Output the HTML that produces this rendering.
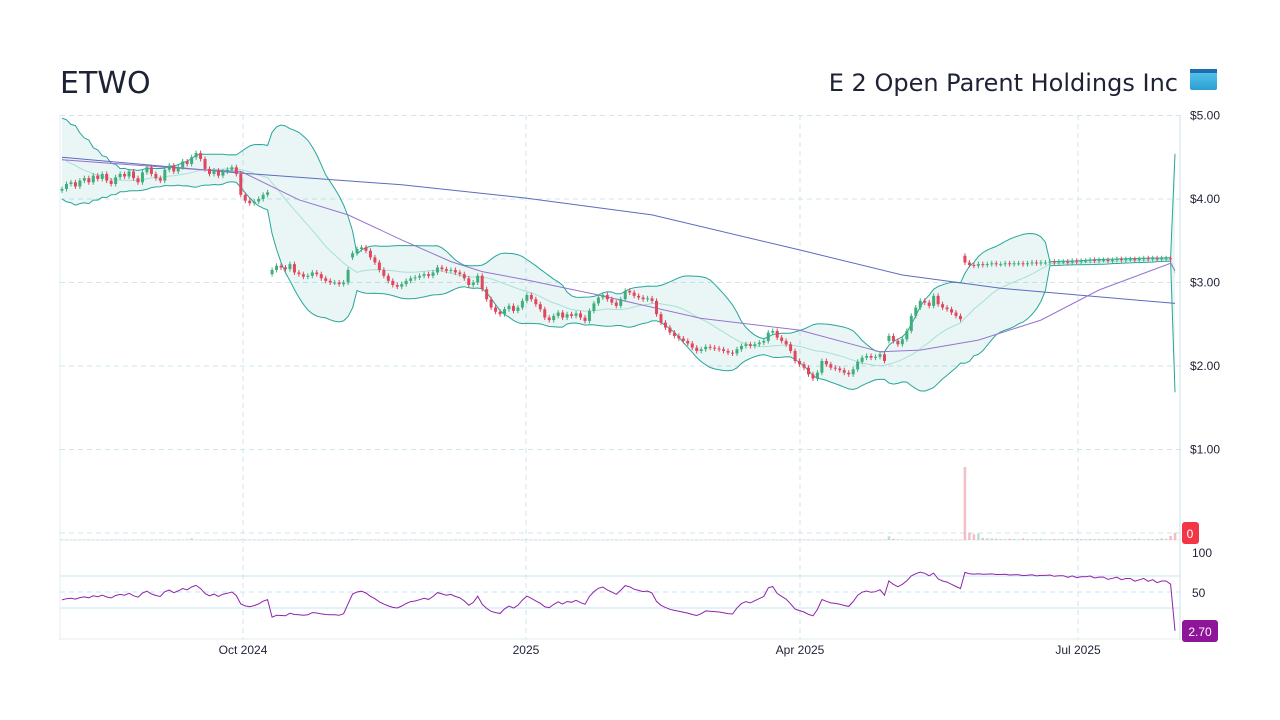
<!DOCTYPE html>
<html><head><meta charset="utf-8"><style>
body{margin:0;background:#fff;font-family:"Liberation Sans","DejaVu Sans",sans-serif;}
#wrap{position:relative;width:1280px;height:720px;overflow:hidden}
</style></head><body>
<div id="wrap">
<svg id="svg" width="1280" height="720" xmlns="http://www.w3.org/2000/svg">
<text x="60" y="93" font-size="30" fill="#1e2235" font-family="DejaVu Sans, sans-serif">ETWO</text>
<text x="1178" y="91" font-size="24" fill="#1e2235" text-anchor="end" font-family="DejaVu Sans, sans-serif">E 2 Open Parent Holdings Inc</text>
<g><defs><linearGradient id="lg" x1="0" y1="0" x2="0" y2="1"><stop offset="0" stop-color="#5ec8ec"/><stop offset="1" stop-color="#2a9fd4"/></linearGradient></defs>
<rect x="1190" y="69" width="27" height="21" rx="2" fill="url(#lg)"/><rect x="1190" y="69" width="27" height="4" fill="#1b6fb0"/></g>
<g id="grid"></g><g id="bands"></g><g id="lines"></g><g id="vol"></g><g id="candles"></g><g id="rsi"></g><g id="axes"></g>
</svg></div>
<script>
const priorCloses=[4.70,4.85,4.60,4.90,4.75,4.55,4.80,4.50,4.65,4.40,4.60,4.35,4.50,4.25,4.40,4.20,4.30,4.15,4.10];
const closes=[4.12,4.18,4.20,4.15,4.22,4.25,4.20,4.28,4.24,4.30,4.22,4.18,4.26,4.30,4.27,4.33,4.25,4.20,4.32,4.38,4.30,4.25,4.22,4.35,4.40,4.33,4.38,4.45,4.42,4.50,4.55,4.48,4.36,4.30,4.34,4.28,4.33,4.35,4.38,4.30,
4.05,3.98,3.95,3.97,4.00,4.05,4.08,
3.15,3.20,3.18,3.16,3.22,3.12,3.10,3.07,3.08,3.12,3.10,3.05,3.02,3.00,3.00,2.98,3.00,3.15,
3.35,3.40,3.42,3.38,3.30,3.24,3.15,3.08,3.02,2.97,2.95,2.98,3.02,3.05,3.06,3.08,3.10,3.08,3.12,3.18,3.16,3.14,3.15,3.12,3.10,3.05,2.97,3.00,3.08,2.92,2.80,2.70,2.65,2.62,2.68,2.72,2.66,2.70,2.78,
2.85,2.80,2.74,2.68,2.58,2.55,2.60,2.64,2.58,2.62,2.60,2.63,2.58,2.54,2.66,2.75,2.82,2.85,2.80,2.76,2.72,2.80,2.90,2.88,2.84,2.82,2.80,2.81,2.78,
2.62,2.52,2.46,2.40,2.36,2.33,2.30,2.27,2.22,2.18,2.20,2.23,2.22,2.21,2.20,2.18,2.16,2.15,2.20,2.24,2.26,2.24,2.26,2.28,2.30,2.40,2.42,2.34,2.30,2.26,2.18,2.06,2.02,
1.98,1.90,1.85,1.92,2.06,2.02,1.98,1.97,1.95,1.92,1.90,1.96,2.05,2.10,2.12,2.10,2.11,2.14,2.06,
2.36,2.30,2.26,2.32,2.42,2.60,2.70,2.78,2.76,2.72,2.84,2.74,2.70,2.68,2.64,2.60,2.56,
3.24,3.21,3.20,3.22,3.21,3.22,3.23,3.22,3.22,3.23,3.22,3.23,3.23,3.22,3.23,3.24,3.23,3.24,3.24,3.25,3.24,3.25,3.25,3.24,3.26,3.25,3.26,3.26,3.27,3.26,3.27,3.27,3.26,3.27,3.28,3.27,3.28,3.28,3.27,3.28,3.29,3.28,3.29,3.28,3.29,3.29,3.28,0];
const gapOpenIdx=[47,65,185,202];
const gapOpenVal=[3.10,3.30,2.30,3.32];
const volumes=[60,40,50,30,40,60,40,50,30,40,40,30,60,40,30,50,40,60,40,30,50,40,60,40,30,40,50,60,80,200,60,40,50,40,30,60,40,50,40,40,
60,40,50,40,30,40,60,80,60,50,40,30,60,40,50,40,30,40,60,50,40,40,50,40,60,
120,80,60,50,40,60,40,50,40,30,40,50,40,60,40,50,40,30,40,50,40,40,30,60,40,50,40,30,40,50,60,40,50,40,30,40,60,80,50,
60,40,50,40,30,40,60,50,40,40,30,50,40,60,40,30,50,40,40,60,40,30,50,40,40,60,50,40,30,
60,40,50,40,30,40,60,50,40,40,30,50,40,60,40,30,50,40,40,60,40,30,50,40,40,60,50,40,30,40,60,50,40,
60,40,50,40,30,40,60,50,40,40,30,50,40,60,40,30,50,40,60,
450,150,80,60,50,40,60,50,40,40,30,50,40,60,40,30,50,
9000,900,700,800,250,200,180,150,120,100,150,120,100,200,120,100,120,150,100,100,120,100,150,100,120,100,120,100,150,100,120,100,120,100,150,100,120,100,120,150,100,120,100,120,200,150,500,900];
const sma200Idx=[0,40,76,104,132,165,188,210,249];
const sma200Val=[4.50,4.31,4.17,4.01,3.81,3.39,3.09,2.93,2.75];
const sma50Idx=[0,31,40,53,64,76,87,94,104,120,143,165,183,192,205,219,232,248,249];
const sma50Val=[4.47,4.35,4.33,3.99,3.81,3.51,3.25,3.13,3.03,2.85,2.57,2.43,2.17,2.19,2.31,2.55,2.91,3.23,3.14];
const priceTicks=[5,4,3,2,1];
const priceTickLabels=["$5.00","$4.00","$3.00","$2.00","$1.00"];
const rsiTicks=[100,50];
const dateIdx=[40.5,103.8,165.1,227.3];
const dateLabels=["Oct 2024","2025","Apr 2025","Jul 2025"];

const NS="http://www.w3.org/2000/svg";
const X0=62,STEP=4.47,L=60,R=1180;
const xs=i=>X0+i*STEP;
const yp=p=>533-p*83.5;
const yr=v=>633-v*0.8;
function el(tag,attrs,parent,name,text){const e=document.createElementNS(NS,tag);for(const k in attrs)e.setAttribute(k,attrs[k]);


if(text!==undefined)e.textContent=text;document.getElementById(parent).appendChild(e);return e;}
const dash="5,4",gc="#cfe6ee";
priceTicks.forEach((p,k)=>{el('line',{x1:L,x2:R,y1:yp(p),y2:yp(p),stroke:gc,'stroke-dasharray':dash},'grid','price-gridline');
el('text',{x:1190,y:yp(p)+4,'font-size':12,fill:'#1e2235'},'axes','price-tick-label',priceTickLabels[k]);});
el('line',{x1:L,x2:R,y1:533,y2:533,stroke:gc,'stroke-dasharray':dash},'grid','zero-gridline');
[70,50,30].forEach(v=>el('line',{x1:L,x2:R,y1:yr(v)-1,y2:yr(v)-1,stroke:'#c5e6f2','stroke-dasharray':v==50?dash:'none'},'grid','rsi-gridline'));
dateIdx.forEach((d,k)=>{const x=xs(d);el('line',{x1:x,x2:x,y1:115,y2:640,stroke:gc,'stroke-dasharray':dash},'grid','date-gridline');
el('text',{x:x,y:654,'font-size':12,fill:'#1e2235','text-anchor':'middle'},'axes','date-tick-label',dateLabels[k]);});
el('line',{x1:L,x2:R,y1:540,y2:540,stroke:'#e3eef3'},'grid','pane-divider');
el('line',{x1:L,x2:R,y1:639,y2:639,stroke:'#e3eef3'},'grid','bottom-border');
el('line',{x1:L,x2:L,y1:115,y2:640,stroke:'#e3eef3'},'grid','left-border');
el('line',{x1:R,x2:R,y1:115,y2:640,stroke:'#c8e0ea'},'grid','right-axis-line');
rsiTicks.forEach(v=>el('text',{x:1192,y:yr(v)+4,'font-size':12,fill:'#1e2235'},'axes','rsi-tick-label',String(v)));
const all=priorCloses.concat(closes),P=priorCloses.length;
let up=[],lo=[],mid=[];
closes.forEach((c,i)=>{const w=all.slice(i+P-19,i+P+1);const m=w.reduce((a,b)=>a+b,0)/w.length;
const sd=Math.sqrt(w.reduce((a,b)=>a+(b-m)*(b-m),0)/w.length);mid.push([xs(i),yp(m)]);up.push([xs(i),yp(m+2*sd)]);lo.push([xs(i),yp(m-2*sd)]);});
const pstr=a=>a.map(p=>p[0].toFixed(1)+','+p[1].toFixed(1)).join(' ');
el('polygon',{points:pstr(up)+' '+pstr(lo.slice().reverse()),fill:'rgba(38,166,154,0.1)'},'bands','bollinger-fill');
el('polyline',{points:pstr(up),fill:'none',stroke:'#26a69a','stroke-width':1},'bands','bollinger-upper');
el('polyline',{points:pstr(lo),fill:'none',stroke:'#26a69a','stroke-width':1},'bands','bollinger-lower');
el('polyline',{points:pstr(mid),fill:'none',stroke:'#a8e0d6','stroke-width':1},'bands','bollinger-middle');
el('polyline',{points:pstr(sma200Idx.map((d,k)=>[xs(d),yp(sma200Val[k])])),fill:'none',stroke:'#5c6bc0','stroke-width':1},'lines','sma-200-line');
el('polyline',{points:pstr(sma50Idx.map((d,k)=>[xs(d),yp(sma50Val[k])])),fill:'none',stroke:'#9575cd','stroke-width':1},'lines','sma-50-line');
const vmax=Math.max(...volumes);
closes.forEach((c,i)=>{let o=i?closes[i-1]:priorCloses[P-1];const g=gapOpenIdx.indexOf(i);if(g>=0)o=gapOpenVal[g];
const up_=c>=o;const col=up_?'#3fae7c':'#e0475e';
const vh=volumes[i]/vmax*73;el('rect',{x:xs(i)-1.3,y:540-vh,width:2.6,height:Math.max(vh,0.5),fill:up_?'rgba(63,174,124,0.35)':'rgba(224,71,94,0.35)'},'vol','volume-bar');
if(c===0)return;
const hi=Math.max(o,c)+0.03,lw=Math.min(o,c)-0.03;
el('line',{x1:xs(i),x2:xs(i),y1:yp(hi),y2:yp(lw),stroke:col,'stroke-width':1},'candles','candle-wick');
const t=yp(Math.max(o,c)),b=yp(Math.min(o,c));
el('rect',{x:xs(i)-1.5,y:t,width:3,height:Math.max(b-t,1),fill:col},'candles','candle-body');});
let ag=0,al=0,rs=[];
for(let j=1;j<all.length;j++){const d=all[j]-all[j-1],g=Math.max(d,0),l=Math.max(-d,0);
if(j<=14){ag+=g/14;al+=l/14;}else{ag=(ag*13+g)/14;al=(al*13+l)/14;}
if(j>=P){rs.push(al===0?100:100-100/(1+ag/al));}}
el('polyline',{points:pstr(rs.map((v,i)=>[xs(i),yr(v)])),fill:'none',stroke:'#8e24aa','stroke-width':1},'rsi','rsi-line');
el('rect',{x:1182,y:522,width:17,height:22,rx:3,fill:'#f23645'},'axes','last-price-tag');
el('text',{x:1190,y:538,'font-size':12,fill:'#fff','text-anchor':'middle'},'axes','last-price-label',String(closes[closes.length-1]));
el('rect',{x:1182,y:620,width:36,height:22,rx:3,fill:'#8e1599'},'axes','rsi-value-tag');
el('text',{x:1200,y:636,'font-size':12,fill:'#fff','text-anchor':'middle'},'axes','rsi-value-label',rs[rs.length-1].toFixed(2));
</script>
</body></html>
